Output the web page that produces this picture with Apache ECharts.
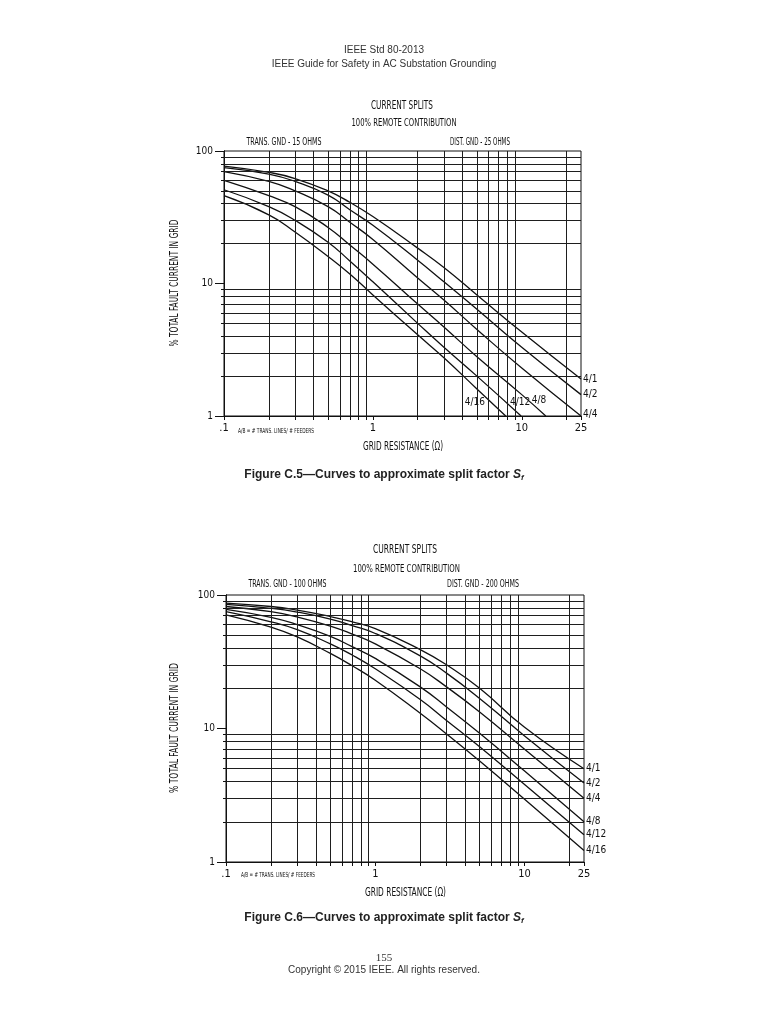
<!DOCTYPE html>
<html>
<head>
<meta charset="utf-8">
<script src="https://cdn.jsdelivr.net/npm/echarts@6.0.0/dist/echarts.min.js"></script>
<style>
  html, body { margin: 0; padding: 0; background: #fff; }
  #page { width: 768px; height: 1024px; }
</style>
</head>
<body>
<div id="page"></div>
<script>
// grid resistance (ohm) / % of fault current
const curveNames = ['4/1', '4/2', '4/4', '4/8', '4/12', '4/16'];

// Figure C.5 - trans. gnd 15 ohms, dist. gnd 25 ohms
const c5_1 = [[0.1, 77], [0.2, 69], [0.3, 62], [0.5, 50], [0.7, 41], [1, 32], [2, 18.5], [3, 13.2], [5, 8.2], [10, 4.3], [25, 1.9]];
const c5_2 = [[0.1, 75], [0.2, 67], [0.3, 59], [0.5, 46.5], [0.7, 36], [1, 27.5], [2, 15], [3, 10.3], [5, 6.4], [10, 3.3], [25, 1.45]];
const c5_4 = [[0.1, 70], [0.2, 59], [0.3, 50], [0.5, 38], [0.7, 29], [1, 21.5], [2, 11], [3, 7.5], [5, 4.5], [10, 2.3], [25, 1.0]];
const c5_8 = [[0.1, 60], [0.2, 46], [0.3, 38], [0.5, 26.5], [0.7, 19.5], [1, 14], [2, 7], [3, 4.7], [5, 2.8], [10, 1.45], [14.5, 1]];
const c5_12 = [[0.1, 51], [0.2, 38], [0.3, 30], [0.5, 20.5], [0.7, 14.8], [1, 10.3], [2, 5.0], [3, 3.3], [5, 2.0], [9.9, 1]];
const c5_16 = [[0.1, 46], [0.2, 33], [0.3, 24.5], [0.5, 16], [0.7, 11.8], [1, 8.2], [2, 4.1], [3, 2.75], [5, 1.6], [7.8, 1]];

// Figure C.6 - trans. gnd 100 ohms, dist. gnd 200 ohms
const c6_1 = [[0.1, 87], [0.2, 82], [0.3, 77], [0.5, 69], [0.7, 63], [1, 56], [2, 39], [3, 30], [5, 20], [10, 10.2], [25, 5.0]];
const c6_2 = [[0.1, 85], [0.2, 79.5], [0.3, 74.5], [0.5, 66], [0.7, 59], [1, 51.5], [2, 35], [3, 26], [5, 16.8], [10, 8.8], [25, 3.9]];
const c6_4 = [[0.1, 82], [0.2, 75], [0.3, 68.5], [0.5, 58.5], [0.7, 51], [1, 43], [2, 28], [3, 20.5], [5, 13.3], [10, 7.0], [25, 3.0]];
const c6_8 = [[0.1, 78], [0.2, 68], [0.3, 60], [0.5, 49], [0.7, 41], [1, 33.5], [2, 20.5], [3, 14.5], [5, 9.2], [10, 4.8], [25, 2.0]];
const c6_12 = [[0.1, 75], [0.2, 63], [0.3, 55], [0.5, 43], [0.7, 35.5], [1, 28], [2, 16.5], [3, 11.5], [5, 7.3], [10, 3.8], [25, 1.6]];
const c6_16 = [[0.1, 71], [0.2, 57.5], [0.3, 48.5], [0.5, 36.5], [0.7, 29.5], [1, 23], [2, 13], [3, 9.1], [5, 5.7], [10, 2.95], [25, 1.22]];

// grid lines (the drawing has none on the decades) and tick labels
const gridX = [0.2, 0.3, 0.4, 0.5, 0.6, 0.7, 0.8, 0.9, 2, 3, 4, 5, 6, 7, 8, 9, 20];
const gridY = [2, 3, 4, 5, 6, 7, 8, 9, 20, 30, 40, 50, 60, 70, 80, 90];
const xTicks = [0.1, 1, 10, 25];
const xTickText = ['.1', '1', '10', '25'];
const yTicks = [1, 10, 100];

const CAD = "'Liberation Sans Narrow', 'DejaVu Sans Condensed', sans-serif";
const SANS = "'Liberation Sans', Arial, sans-serif";
const INK = '#111';

const chart = echarts.init(document.getElementById('page'));

const measure = (function () {
  const ctx = document.createElement('canvas').getContext('2d');
  return function (t, font) { ctx.font = font; return ctx.measureText(t).width; };
})();

// narrow CAD style lettering, squeezed to the width it has on the drawing
function cad(text, cx, cy, size, width, rot) {
  const font = size + 'px ' + CAD;
  return {
    type: 'text', x: cx, y: cy, rotation: rot || 0,
    scaleX: width / measure(text, font), silent: true,
    style: {text: text, font: font, fill: INK, align: 'center', verticalAlign: 'middle',
      textAlign: 'center', textVerticalAlign: 'middle'}
  };
}

function plain(text, cx, cy, font, color) {
  return {
    type: 'text', x: cx, y: cy, silent: true,
    style: {text: text, font: font, fill: color || '#222', align: 'center', verticalAlign: 'middle',
      textAlign: 'center', textVerticalAlign: 'middle'}
  };
}

// "Figure C.x—Curves to approximate split factor Sf"
function caption(num, cy) {
  const main = 'Figure ' + num + '\u2014Curves to approximate split factor ';
  const fMain = 'bold 12px ' + SANS, fS = 'bold italic 12px ' + SANS, fSub = 'bold italic 8px ' + SANS;
  const w1 = measure(main, fMain), w2 = measure('S', fS), w3 = measure('f', fSub);
  const x0 = 384 - (w1 + w2 + w3) / 2;
  const t = (text, x, y, font) => ({type: 'text', x: x, y: y, silent: true,
    style: {text: text, font: font, fill: '#222', align: 'left', verticalAlign: 'middle',
      textAlign: 'left', textVerticalAlign: 'middle'}});
  return [t(main, x0, cy, fMain), t('S', x0 + w1, cy, fS), t('f', x0 + w1 + w2, cy + 3, fSub)];
}

const fmtX = function (v) {
  const i = xTicks.findIndex(t => Math.abs(Math.log10(t) - Math.log10(v)) < 0.01);
  return i >= 0 ? xTickText[i] : '';
};

function xAxisFor(gi) {
  return {
    type: 'log', logBase: 10, gridIndex: gi, min: 0.1, max: 25,
    axisLine: {show: true, lineStyle: {color: INK, width: 1}},
    axisTick: {show: true, inside: false, length: 4, customValues: gridX.concat(xTicks),
      lineStyle: {color: INK, width: 1}},
    axisLabel: {customValues: xTicks, formatter: fmtX, margin: 7, fontFamily: CAD,
      fontSize: 11, color: INK},
    splitLine: {show: false}
  };
}

function yAxesFor(gi) {
  const base = {
    type: 'log', logBase: 10, gridIndex: gi, min: 1, max: 100, position: 'left',
    axisLine: {show: true, lineStyle: {color: INK, width: 1}},
    splitLine: {show: false}
  };
  return [
    Object.assign({}, base, {
      axisTick: {show: true, length: 3, customValues: gridY, lineStyle: {color: INK}},
      axisLabel: {show: false}
    }),
    Object.assign({}, base, {
      axisTick: {show: true, length: 9, customValues: yTicks, lineStyle: {color: INK}},
      axisLabel: {customValues: yTicks, margin: 11, fontFamily: CAD, fontSize: 10, color: INK}
    })
  ];
}

const gridLines = {
  silent: true, symbol: 'none', animation: false, label: {show: false},
  lineStyle: {color: '#1e1e1e', width: 1, type: 'solid'},
  emphasis: {disabled: true},
  data: gridX.map(v => ({xAxis: v})).concat(gridY.map(v => ({yAxis: v})))
};

function curves(gi, sets, offsets) {
  return sets.map(function (data, i) {
    const s = {
      type: 'line', name: curveNames[i], xAxisIndex: gi, yAxisIndex: gi * 2,
      data: data, smooth: true, symbol: 'none', silent: true,
      lineStyle: {color: INK, width: 1.3},
      endLabel: {show: true, formatter: '{a}', distance: 2, fontFamily: CAD, fontSize: 10,
        color: INK, offset: offsets[i] || [0, 0]}
    };
    if (i === 0) s.markLine = gridLines;
    return s;
  });
}

const option = {
  backgroundColor: '#fff',
  animation: false,
  grid: [
    {left: 224, top: 151, width: 357, height: 265, show: true, borderColor: INK, borderWidth: 1},
    {left: 226, top: 595, width: 358, height: 267, show: true, borderColor: INK, borderWidth: 1}
  ],
  xAxis: [xAxisFor(0), xAxisFor(1)],
  yAxis: yAxesFor(0).concat(yAxesFor(1)),
  series: curves(0, [c5_1, c5_2, c5_4, c5_8, c5_12, c5_16],
      [[0, 0], [0, 0], [0, -2], [-16, -16], [-13, -14], [-43, -14]])
    .concat(curves(1, [c6_1, c6_2, c6_4, c6_8, c6_12, c6_16], [])),
  graphic: [
    plain('IEEE Std 80-2013', 384, 50, '10px ' + SANS, '#333'),
    plain('IEEE Guide for Safety in AC Substation Grounding', 384, 64, '10px ' + SANS, '#333'),

    cad('CURRENT SPLITS', 402, 106.5, 11.5, 62),
    cad('100% REMOTE CONTRIBUTION', 404, 123.5, 11, 105),
    cad('TRANS. GND - 15 OHMS', 284, 142, 10, 75),
    cad('DIST. GND - 25 OHMS', 480, 142, 10, 60),
    cad('% TOTAL FAULT CURRENT IN GRID', 175, 283, 12, 127, Math.PI / 2),
    cad('GRID RESISTANCE (\u03A9)', 403, 447, 12, 80),
    cad('A/B = # TRANS. LINES/ # FEEDERS', 276, 431, 7, 76),

    cad('CURRENT SPLITS', 405, 550.5, 11.5, 64),
    cad('100% REMOTE CONTRIBUTION', 406.5, 569, 11, 107),
    cad('TRANS. GND - 100 OHMS', 287.5, 584, 10, 78),
    cad('DIST. GND - 200 OHMS', 483, 584, 10, 72),
    cad('% TOTAL FAULT CURRENT IN GRID', 175, 728, 12, 130, Math.PI / 2),
    cad('GRID RESISTANCE (\u03A9)', 405.5, 892.5, 12, 81),
    cad('A/B = # TRANS. LINES/ # FEEDERS', 278, 875, 7, 74),

    plain('155', 384, 958, '11px "Liberation Serif", "Times New Roman", serif', '#333'),
    plain('Copyright \u00A9 2015 IEEE. All rights reserved.', 384, 970, '10px ' + SANS, '#333')
  ].concat(caption('C.5', 475), caption('C.6', 918))
};

chart.setOption(option);
</script>
</body>
</html>
